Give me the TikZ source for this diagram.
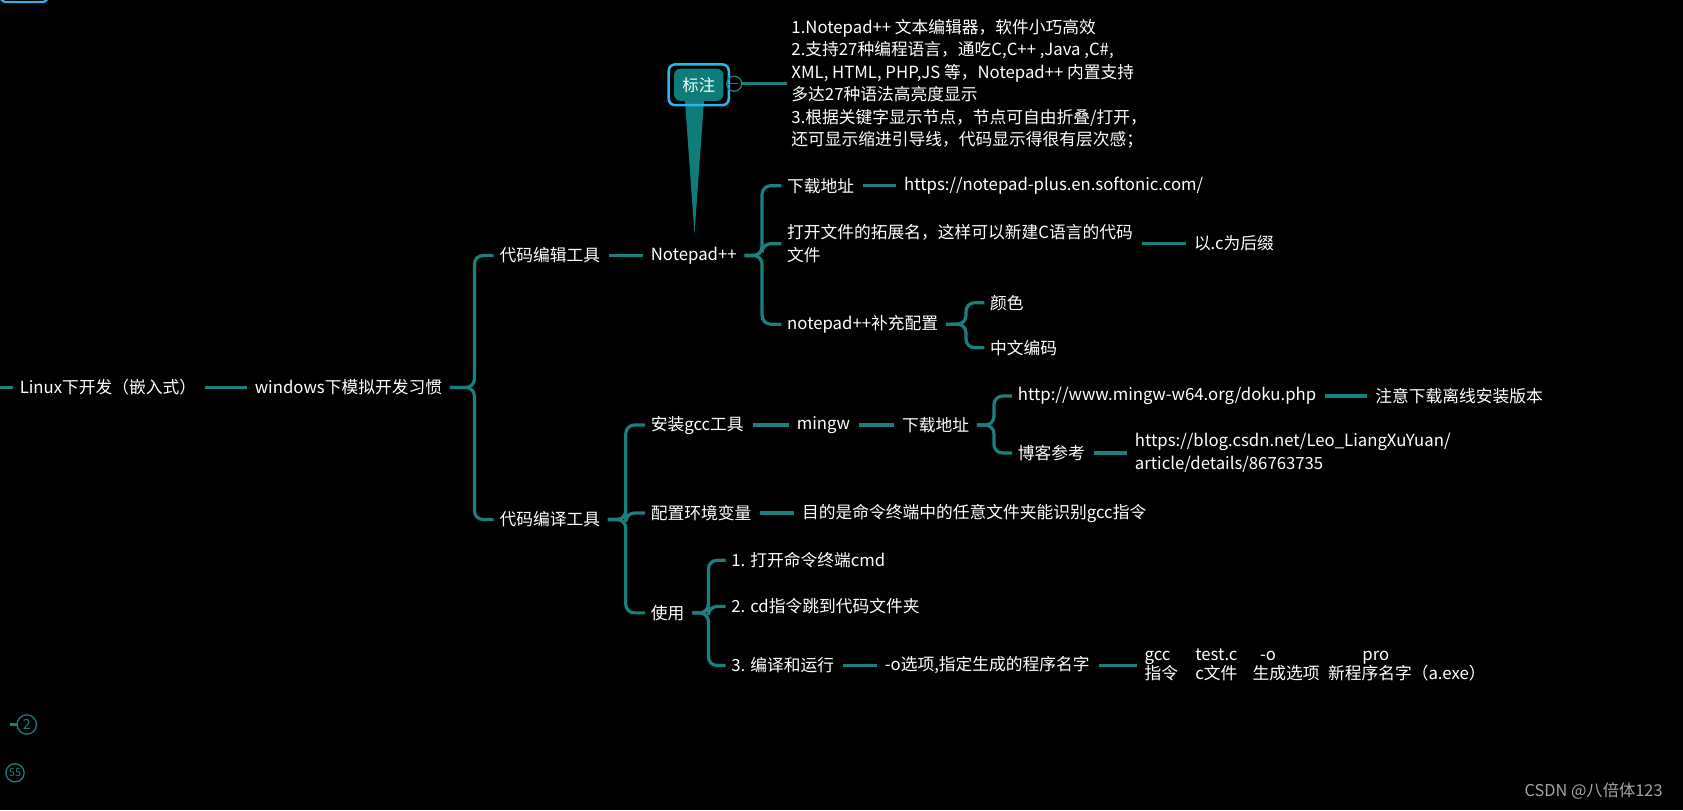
\documentclass[tikz,border=0pt]{standalone}
\usepackage{fontspec}
\setmainfont{Noto Sans CJK SC}
\usetikzlibrary{calc,shapes.geometric}
\definecolor{tealline}{HTML}{1B7F7C}
\definecolor{calloutfill}{HTML}{0E7C78}
\definecolor{calloutedge}{HTML}{2AB4F0}
\tikzset{
  lbl/.style={anchor=west,text=white,inner sep=0pt,align=left,
    font=\fontsize{7.8}{10.5}\selectfont},
  br/.style={draw=tealline,line width=1.5pt,rounded corners=4pt},
}
\newcommand{\MMLink}[2]{
  \draw[br] ($(#1.east)+(8,0)$) -- ($(#2.west)+(-7,0)$);
}
\newcommand{\MMFork}[3]{
  \draw[br] ($(#1.east)+(7,0)$) -- (#2) |- ($(#3.west)+(-5,0)$);
}
\begin{document}
\begin{tikzpicture}[x=0.5pt,y=-0.5pt]
\fill[black] (0,0) rectangle (1568,755);
\useasboundingbox (0,0) rectangle (1568,755);
\draw[calloutedge,line width=1pt,rounded corners=3pt] (0,-6) rectangle (45,2);

% main branch
\node[lbl] (linux) at (18,361) {Linux下开发（嵌入式）};
\draw[br] (0,361) -- ($(linux.west)+(-6,0)$);
\node[lbl] (win) at (237,361) {windows下模拟开发习惯};
\MMLink{linux}{win}
\coordinate (wb) at (442,361);
\node[lbl] (edit) at (465,238) {代码编辑工具};
\node[lbl] (comp) at (465,484) {代码编译工具};
\MMFork{win}{wb}{edit}
\MMFork{win}{wb}{comp}

% Notepad++ part
\node[lbl] (npp) at (606,238) {Notepad++};
\MMLink{edit}{npp}
\coordinate (nb) at (710,238);
\node[lbl] (dl) at (733,173) {下载地址};
\node[lbl] (ext) at (733,227) {打开文件的拓展名，这样可以新建C语言的代码\\文件};
\node[lbl] (cfg) at (733,302) {notepad++补充配置};
\MMFork{npp}{nb}{dl}
\MMFork{npp}{nb}{ext}
\MMFork{npp}{nb}{cfg}
\node[lbl] (url) at (842,173) {https://notepad-plus.en.softonic.com/};
\MMLink{dl}{url}
\node[lbl] (suf) at (1112,227) {以.c为后缀};
\MMLink{ext}{suf}
\coordinate (cb) at (900,302);
\node[lbl] (color) at (922,282) {颜色};
\node[lbl] (cn) at (922,324) {中文编码};
\MMFork{cfg}{cb}{color}
\MMFork{cfg}{cb}{cn}

% callout
\fill[calloutfill] (638,92) -- (656,92) -- (647,218) -- cycle;
\node[draw=calloutedge,line width=1.2pt,rounded corners=3pt,minimum width=28pt,
  minimum height=19pt] (tagbox) at (651,79) {};
\node[fill=calloutfill,rounded corners=3pt,minimum width=23pt,minimum height=15pt,
  text=white,inner sep=0pt,font=\fontsize{7.6}{9}\selectfont] (tag) at (651,79) {标注};
\node[draw=tealline,circle,line width=0.6pt,minimum size=7pt,inner sep=0pt] (fold) at (684,78) {};
\draw[tealline,line width=0.6pt] ($(fold.center)+(-4,0)$) -- ($(fold.center)+(4,0)$);
\draw[tealline,line width=0.6pt] (tagbox.east) -- (fold.west);
\node[lbl] (note) at (737,78) {1.Notepad++ 文本编辑器，软件小巧高效\\
2.支持27种编程语言，通吃C,C++ ,Java ,C\#,\\
XML, HTML, PHP,JS 等，Notepad++ 内置支持\\
多达27种语法高亮度显示\\
3.根据关键字显示节点，节点可自由折叠/打开，\\
还可显示缩进引导线，代码显示得很有层次感；};
\draw[br] (fold.east) -- ($(note.west)+(-4,0)$);

% gcc part
\coordinate (gb) at (583,484);
\node[lbl] (gcc) at (606,396) {安装gcc工具};
\node[lbl] (env) at (606,478) {配置环境变量};
\node[lbl] (use) at (606,571) {使用};
\MMFork{comp}{gb}{gcc}
\MMFork{comp}{gb}{env}
\MMFork{comp}{gb}{use}
\node[lbl] (mingw) at (742,396) {mingw};
\MMLink{gcc}{mingw}
\node[lbl] (mdl) at (840,396) {下载地址};
\MMLink{mingw}{mdl}
\coordinate (mb) at (926,396);
\node[lbl] (murl) at (948,369) {http://www.mingw-w64.org/doku.php};
\node[lbl] (blog) at (948,422) {博客参考};
\MMFork{mdl}{mb}{murl}
\MMFork{mdl}{mb}{blog}
\node[lbl] (off) at (1281,369) {注意下载离线安装版本};
\MMLink{murl}{off}
\node[lbl] (burl) at (1057,422) {https://blog.csdn.net/Leo\_LiangXuYuan/\\article/details/86763735};
\MMLink{blog}{burl}
\node[lbl] (aim) at (747,478) {目的是命令终端中的任意文件夹能识别gcc指令};
\MMLink{env}{aim}
\coordinate (ub) at (660,571);
\node[lbl] (s1) at (681,522) {1. 打开命令终端cmd};
\node[lbl] (s2) at (681,565) {2. cd指令跳到代码文件夹};
\node[lbl] (s3) at (681,620) {3. 编译和运行};
\MMFork{use}{ub}{s1}
\MMFork{use}{ub}{s2}
\MMFork{use}{ub}{s3}
\node[lbl] (opt) at (824,620) {-o选项,指定生成的程序名字};
\MMLink{s3}{opt}
\node[lbl] (cmd) at (1066,620) {%
\begin{tabular}{@{}l@{\hspace{8pt}}l@{\hspace{7pt}}l@{\hspace{4pt}}l@{}}
gcc & test.c & \ \ -o & \hspace{16pt}pro\\[-2pt]
指令 & c文件 & 生成选项 & 新程序名字（a.exe）
\end{tabular}};
\MMLink{opt}{cmd}

% folded stubs at left
\node[draw=tealline,circle,line width=0.6pt,minimum size=9pt,inner sep=0pt,
  text=tealline,font=\fontsize{6.5}{7}\selectfont] (c2) at (25,675) {2};
\draw[br] (9,675) -- (c2.west);
\node[draw=tealline,circle,line width=0.6pt,minimum size=8.5pt,inner sep=0pt,
  text=tealline,font=\fontsize{5}{6}\selectfont] (c55) at (14,720) {55};

\node[anchor=east,text=gray!70,font=\fontsize{7.6}{9}\selectfont] (wm) at (1556,737) {CSDN @八倍体123};
\end{tikzpicture}
\end{document}
